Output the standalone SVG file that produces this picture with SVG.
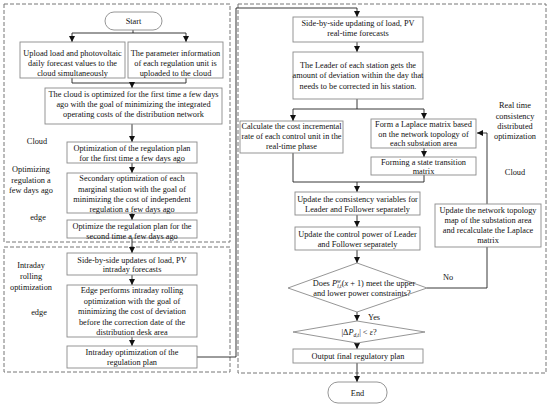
<svg xmlns="http://www.w3.org/2000/svg" width="550" height="405" viewBox="0 0 550 405">
<defs>
<marker id="ah" markerUnits="userSpaceOnUse" markerWidth="6" markerHeight="6" viewBox="0 0 6 6" refX="6" refY="3" orient="auto">
<path d="M0,0 L6,3 L0,6 Z" fill="#111"/>
</marker>
<style>
.bx{fill:#fff;stroke:#8a8a8a;stroke-width:0.9}
.dash{fill:none;stroke:#777;stroke-width:1;stroke-dasharray:4 2}
.c{fill:none;stroke:#222;stroke-width:0.9}
.ca{fill:none;stroke:#222;stroke-width:0.9;marker-end:url(#ah)}
text{font-family:"Liberation Serif","Times New Roman",serif;font-size:8.3px;fill:#111;text-anchor:middle}
.it{font-style:italic}
</style>
</defs>
<rect width="550" height="405" fill="#fff"/>
<g id="regions">
<rect class="dash" x="4" y="4" width="226" height="238"/>
<rect class="dash" x="4" y="247" width="226" height="125"/>
<rect class="dash" x="238" y="4" width="308" height="369"/>
</g>
<g id="labels">
<text x="37" y="144">Cloud</text>
<text x="31" y="172">Optimizing</text>
<text x="31" y="183">regulation a</text>
<text x="31" y="193">few days ago</text>
<text x="38" y="220">edge</text>
<text x="31" y="268">Intraday</text>
<text x="31" y="278.5">rolling</text>
<text x="31" y="289.5">optimization</text>
<text x="39" y="314.5">edge</text>
<text x="515" y="108">Real time</text>
<text x="515" y="118.5">consistency</text>
<text x="515" y="129">distributed</text>
<text x="515" y="139">optimization</text>
<text x="515" y="175">Cloud</text>
<text x="448" y="280">No</text>
<text x="368" y="320" style="text-anchor:start">Yes</text>
</g>
<g id="connectors">
<path class="c" d="M133,30 V33 M72,33 H186"/>
<path class="ca" d="M72,33 V42"/>
<path class="ca" d="M186,33 V42"/>
<path class="c" d="M72,78 V83 M186,78 V83 M72,83 H186"/>
<path class="ca" d="M132,83 V88"/>
<path class="ca" d="M132,124 V142"/>
<path class="ca" d="M132,163 V173"/>
<path class="ca" d="M132,213 V220"/>
<path class="ca" d="M132,238 V253"/>
<path class="ca" d="M132,275 V285"/>
<path class="ca" d="M132,337 V346"/>
<path class="ca" d="M197,357 H236 V8 H357 V17"/>
<path class="ca" d="M357,42 V52"/>
<path class="c" d="M357,99 V109 M293,109 H424"/>
<path class="ca" d="M293,109 V121"/>
<path class="ca" d="M424,109 V119"/>
<path class="ca" d="M424,148 V157"/>
<path class="c" d="M293,153 V182 M424,175 V182 M293,182 H424"/>
<path class="ca" d="M357,182 V192"/>
<path class="ca" d="M357,215 V227"/>
<path class="ca" d="M357,250 V263"/>
<path class="c" d="M427,288 H487 V247"/>
<path class="ca" d="M487,204 V133 H477"/>
<path class="ca" d="M357,312 V321"/>
<path class="ca" d="M357,343 V349"/>
<path class="ca" d="M357,363 V382"/>
</g>
<g id="start">
<rect class="bx" x="105" y="12" width="57" height="18" rx="9"/>
<text x="133.5" y="24">Start</text>
</g>
<g id="upload">
<rect class="bx" x="20" y="42" width="105" height="36"/>
<text x="72.5" y="55.5">Upload load and photovoltaic</text>
<text x="72.5" y="65.5">daily forecast values to the</text>
<text x="72.5" y="75.5">cloud simultaneously</text>
</g>
<g id="params">
<rect class="bx" x="128" y="42" width="95" height="36"/>
<text x="175.5" y="55.5">The parameter information</text>
<text x="175.5" y="65.5">of each regulation unit is</text>
<text x="175.5" y="75.5">uploaded to the cloud</text>
</g>
<g id="cloudopt">
<rect class="bx" x="45" y="88" width="177" height="36"/>
<text x="133.5" y="97">The cloud is optimized for the first time a few days</text>
<text x="133.5" y="107">ago with the goal of minimizing the integrated</text>
<text x="133.5" y="117">operating costs of the distribution network</text>
</g>
<g id="firstopt">
<rect class="bx" x="67" y="142" width="130" height="21"/>
<text x="132" y="151">Optimization of the regulation plan</text>
<text x="132" y="161">for the first time a few days ago</text>
</g>
<g id="secondary">
<rect class="bx" x="67" y="173" width="130" height="40"/>
<text x="132" y="181">Secondary optimization of each</text>
<text x="132" y="191.5">marginal station with the goal of</text>
<text x="132" y="202">minimizing the cost of independent</text>
<text x="132" y="212">regulation a few days ago</text>
</g>
<g id="secondopt">
<rect class="bx" x="67" y="220" width="130" height="18"/>
<text x="132" y="229">Optimize the regulation plan for the</text>
<text x="132" y="239">second time a few days ago</text>
</g>
<g id="intradayfc">
<rect class="bx" x="67" y="253" width="130" height="22"/>
<text x="132" y="263">Side-by-side updates of load, PV</text>
<text x="132" y="272">intraday forecasts</text>
</g>
<g id="edgeopt">
<rect class="bx" x="67" y="285" width="130" height="52"/>
<text x="132" y="293">Edge performs intraday rolling</text>
<text x="132" y="303.5">optimization with the goal of</text>
<text x="132" y="314">minimizing the cost of deviation</text>
<text x="132" y="324.5">before the correction date of the</text>
<text x="132" y="334.5">distribution desk area</text>
</g>
<g id="intradayplan">
<rect class="bx" x="67" y="346" width="130" height="22"/>
<text x="132" y="355">Intraday optimization of the</text>
<text x="132" y="364.5">regulation plan</text>
</g>
<g id="rtfc">
<rect class="bx" x="293" y="17" width="130" height="25"/>
<text x="358" y="25.5">Side-by-side updating of load, PV</text>
<text x="358" y="36">real-time forecasts</text>
</g>
<g id="leader">
<rect class="bx" x="293" y="52" width="130" height="47"/>
<text x="358" y="68">The Leader of each station gets the</text>
<text x="358" y="78">amount of deviation within the day that</text>
<text x="358" y="89">needs to be corrected in his station.</text>
</g>
<g id="costrate">
<rect class="bx" x="240" y="121" width="103" height="32"/>
<text x="291.5" y="129">Calculate the cost incremental</text>
<text x="291.5" y="139">rate of each control unit in the</text>
<text x="291.5" y="149">real-time phase</text>
</g>
<g id="laplace">
<rect class="bx" x="371" y="119" width="105" height="29"/>
<text x="423.5" y="127">Form a Laplace matrix based</text>
<text x="423.5" y="136.5">on the network topology of</text>
<text x="423.5" y="146">each substation area</text>
</g>
<g id="statetrans">
<rect class="bx" x="371" y="157" width="105" height="18"/>
<text x="423.5" y="164.5">Forming a state transition</text>
<text x="423.5" y="173.5">matrix</text>
</g>
<g id="consistency">
<rect class="bx" x="295" y="192" width="125" height="23"/>
<text x="357.5" y="202">Update the consistency variables for</text>
<text x="357.5" y="212">Leader and Follower separately</text>
</g>
<g id="controlpower">
<rect class="bx" x="295" y="227" width="125" height="23"/>
<text x="357.5" y="237">Update the control power of Leader</text>
<text x="357.5" y="247">and Follower separately</text>
</g>
<g id="topology">
<rect class="bx" x="435" y="204" width="106" height="43"/>
<text x="488" y="213">Update the network topology</text>
<text x="488" y="223">map of the substation area</text>
<text x="488" y="233">and recalculate the Laplace</text>
<text x="488" y="243">matrix</text>
</g>
<g id="check1">
<polygon class="bx" points="357,263 427,288 357,312 288,288"/>
<text x="364" y="285.5">Does <tspan class="it">P</tspan><tspan class="it" font-size="5.5" dy="-3">w</tspan><tspan class="it" font-size="5.5" dx="-3.5" dy="5">i,t</tspan><tspan dy="-2">(</tspan><tspan class="it">x</tspan> + 1) meet the upper</text>
<text x="362" y="296">and lower power constraints?</text>
</g>
<g id="check2">
<polygon class="bx" points="357,321 425,332 357,343 293,332"/>
<text x="359" y="335">|Δ<tspan class="it">P</tspan><tspan class="it" font-size="5.5" dy="2">d,t</tspan><tspan dy="-2">| &lt; </tspan><tspan class="it">ε</tspan>?</text>
</g>
<g id="output">
<rect class="bx" x="293" y="349" width="130" height="14"/>
<text x="358" y="359">Output final regulatory plan</text>
</g>
<g id="end">
<rect class="bx" x="328" y="382" width="59" height="21" rx="10"/>
<text x="357.5" y="395.5">End</text>
</g>
</svg>
